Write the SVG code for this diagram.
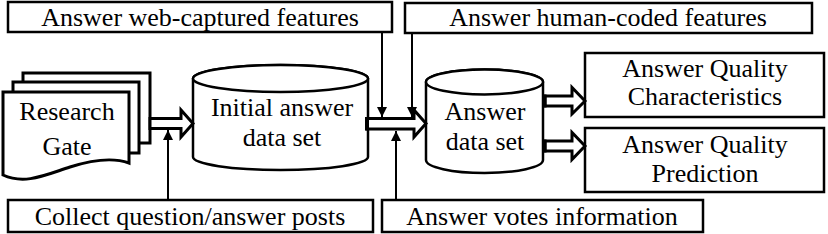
<svg xmlns="http://www.w3.org/2000/svg" width="828" height="234" viewBox="0 0 828 234">
<style>
.box{fill:#fff;stroke:#000;stroke-width:2.5}
.doc{fill:#fff;stroke:#000;stroke-width:3}
.cyl{fill:#fff;stroke:#000;stroke-width:2.5}
.blk{fill:#fff;stroke:#000;stroke-width:3;stroke-linejoin:miter}
.ln{fill:none;stroke:#000;stroke-width:2}
text{font-family:"Liberation Serif","Times New Roman",serif;font-size:26px;fill:#000;text-anchor:middle}
</style>
<defs>
<marker id="ah" viewBox="0 0 10 10" refX="10" refY="5" markerWidth="10" markerHeight="10" markerUnits="userSpaceOnUse" orient="auto"><path d="M0,0 L10,5 L0,10 Z" fill="#000"/></marker>
</defs>
<g id="node-webcaptured"><rect class="box" x="8" y="2" width="384" height="30"/><text x="200" y="26">Answer web-captured features</text></g>
<g id="node-humancoded"><rect class="box" x="405" y="3" width="407" height="30"/><text x="608" y="26">Answer human-coded features</text></g>
<g id="node-collect"><rect class="box" x="8" y="200" width="365" height="32"/><text x="190" y="225">Collect question/answer posts</text></g>
<g id="node-votes"><rect class="box" x="382" y="200" width="321" height="32"/><text x="542" y="225">Answer votes information</text></g>
<g id="node-researchgate">
<rect class="doc" x="23" y="73" width="127" height="70"/>
<rect class="doc" x="13" y="82" width="126" height="71"/>
<path class="doc" d="M3,92 H129 V163 C115,158 95,159 70,167 C45,175 25,185 3,175 Z"/>
<text x="67" y="120">Research</text><text x="67" y="155">Gate</text>
</g>
<g id="node-initial">
<path class="cyl" d="M193,78.5 V157 A87.5,13 0 0 0 368,157 V78.5 A87.5,13.5 0 0 0 193,78.5 Z"/>
<ellipse class="cyl" cx="280.5" cy="78.5" rx="87.5" ry="13.5"/>
<text x="282" y="116">Initial answer</text><text x="282" y="146">data set</text>
</g>
<g id="node-answerdata">
<path class="cyl" d="M426,82 V160 A58.5,13 0 0 0 543,160 V82 A58.5,12.5 0 0 0 426,82 Z"/>
<ellipse class="cyl" cx="484.5" cy="82" rx="58.5" ry="12.5"/>
<text x="485" y="120">Answer</text><text x="485" y="150">data set</text>
</g>
<g id="node-characteristics"><rect class="box" x="585" y="53" width="239" height="64"/><text x="705" y="77">Answer Quality</text><text x="705" y="105">Characteristics</text></g>
<g id="node-prediction"><rect class="box" x="585" y="128" width="239" height="64"/><text x="705" y="153">Answer Quality</text><text x="705" y="182">Prediction</text></g>
<g id="connectors">
<polygon class="blk" points="150,118.5 181,118.5 181,110 193,123.5 181,137 181,128.5 150,128.5"/>
<polygon class="blk" points="367,118.5 414,118.5 414,110 426,123.5 414,137 414,129 367,129"/>
<rect x="365" y="117" width="4" height="13.5" fill="#000"/>
<polygon class="blk" points="545,96 572,96 572,87.5 585,101 572,114 572,106 545,106"/>
<rect x="542" y="94.5" width="4.5" height="13" fill="#000"/>
<polygon class="blk" points="545,141 572,141 572,132.5 585,146 572,159.5 572,151 545,151"/>
<rect x="542" y="139.5" width="4.5" height="13" fill="#000"/>
<line class="ln" x1="382" y1="33" x2="382" y2="117" marker-end="url(#ah)"/>
<line class="ln" x1="412" y1="33" x2="412" y2="117" marker-end="url(#ah)"/>
<line class="ln" x1="168" y1="200" x2="168" y2="130" marker-end="url(#ah)"/>
<line class="ln" x1="396" y1="200" x2="396" y2="131" marker-end="url(#ah)"/>
</g>
</svg>
